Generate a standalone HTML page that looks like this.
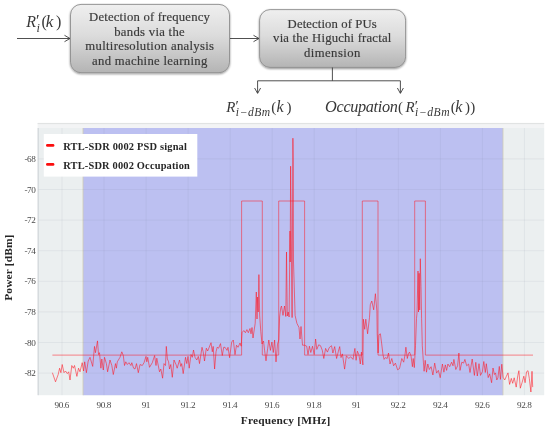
<!DOCTYPE html>
<html><head><meta charset="utf-8"><title>Figure</title>
<style>
html,body{margin:0;padding:0;background:#fff;}
body{width:550px;height:432px;overflow:hidden;position:relative;font-family:"Liberation Serif",serif;}
svg{position:absolute;left:0;top:0;display:block}
text{font-family:"Liberation Serif",serif;}
.bx{font-size:12.7px;fill:#3a3a3a;stroke:#3a3a3a;stroke-width:0.18px}
.ax{font-size:9.2px;fill:#4a4a4a}
.lg{font-size:10.4px;font-weight:bold;fill:#262626}
.tt{font-size:11.4px;font-weight:bold;fill:#262626}
.m{font-style:italic;fill:#383838}
.ms{font-style:italic;fill:#383838}
.mr{font-style:normal;fill:#383838}
</style></head><body>
<svg width="550" height="432" viewBox="0 0 550 432">
<defs>
<linearGradient id="g" x1="0" y1="0" x2="0" y2="1"><stop offset="0" stop-color="#efefef"/><stop offset="0.45" stop-color="#dcdcdc"/><stop offset="1" stop-color="#b4b4b4"/></linearGradient>
<filter id="sh" x="-5%" y="-10%" width="110%" height="130%"><feGaussianBlur in="SourceAlpha" stdDeviation="1.1"/><feOffset dx="0" dy="1.2"/><feComponentTransfer><feFuncA type="linear" slope="0.45"/></feComponentTransfer><feMerge><feMergeNode/><feMergeNode in="SourceGraphic"/></feMerge></filter>
</defs>
<rect width="550" height="432" fill="#fff"/>
<!-- flow diagram -->
<g filter="url(#sh)">
<rect x="70.5" y="4.4" width="159" height="68.3" rx="10.5" ry="10.5" fill="url(#g)" stroke="#8e8e8e" stroke-width="0.9"/>
<rect x="259.6" y="9.6" width="146" height="57.8" rx="10.5" ry="10.5" fill="url(#g)" stroke="#8e8e8e" stroke-width="0.9"/>
</g>
<g fill="none" stroke="#3c3c3c" stroke-width="0.9">
<path d="M17 38.5H70"/><path d="M64.5 35.3L70 38.5L64.5 41.7"/>
<path d="M230 38.5H259"/><path d="M253.5 35.3L259 38.5L253.5 41.7"/>
<path d="M332.4 67.5V80.8"/><path d="M257.6 93V80.8H400.4V93"/>
<path d="M254.6 88L257.6 93.4L260.6 88"/><path d="M397.4 88L400.4 93.4L403.4 88"/>
</g>
<g class="bx">
<text x="89.1" y="21.3" textLength="120.7" lengthAdjust="spacing">Detection of frequency</text>
<text x="114.2" y="35.7" textLength="70.5" lengthAdjust="spacing">bands via the</text>
<text x="85.3" y="50.1" textLength="128.7" lengthAdjust="spacing">multiresolution analysis</text>
<text x="92.1" y="64.5" textLength="115.2" lengthAdjust="spacing">and machine learning</text>
<text x="287.6" y="27.8" textLength="89.1" lengthAdjust="spacing">Detection of PUs</text>
<text x="273.1" y="42.3" textLength="118.2" lengthAdjust="spacing">via the Higuchi fractal</text>
<text x="303.9" y="56.8" textLength="56.5" lengthAdjust="spacing">dimension</text>
</g>
<!-- math labels -->
<text class="m" x="26.2" y="27.4" font-size="16.0">R</text>
<text class="mr" x="36.1" y="26.4" font-size="16.0">′</text>
<text class="ms" x="36.4" y="32.2" font-size="12.3">i</text>
<text class="mr" x="41.4" y="27.4" font-size="16.0">(</text>
<text class="m" x="45.8" y="27.4" font-size="17.0">k</text>
<text class="mr" x="55.9" y="27.4" font-size="16.0">)</text>
<text class="m" x="226.2" y="111.6" font-size="15.0">R</text>
<text class="mr" x="235.5" y="110.6" font-size="15.0">′</text>
<text class="ms" x="235.8" y="116.4" font-size="11.6" textLength="34.4" lengthAdjust="spacing">i−dBm</text>
<text class="mr" x="271.3" y="111.6" font-size="15.0">(</text>
<text class="m" x="276.5" y="111.6" font-size="16.0">k</text>
<text class="mr" x="286.4" y="111.6" font-size="15.0">)</text>
<text class="m" x="325.1" y="111.6" font-size="16.3" textLength="72.8" lengthAdjust="spacing">Occupation</text>
<text class="mr" x="398.0" y="111.6" font-size="15.0">(</text>
<text class="m" x="405.5" y="111.6" font-size="15.0">R</text>
<text class="mr" x="414.8" y="110.6" font-size="15.0">′</text>
<text class="ms" x="415.1" y="116.4" font-size="11.6" textLength="34.4" lengthAdjust="spacing">i−dBm</text>
<text class="mr" x="450.7" y="111.6" font-size="15.0">(</text>
<text class="m" x="455.2" y="111.6" font-size="16.0">k</text>
<text class="mr" x="465.0" y="111.6" font-size="15.0">)</text>
<text class="mr" x="470.2" y="111.6" font-size="15.0">)</text>
<!-- chart -->
<rect x="37.6" y="122.8" width="506.6" height="5.4" fill="#f3f4f5"/>
<rect x="37.6" y="123.1" width="506.6" height="1" fill="#dfe1e2"/>
<rect x="38.0" y="128.0" width="506.2" height="267.2" fill="#ebeff0"/>
<rect x="83" y="128.0" width="420" height="267.2" fill="#bcc0f1"/>
<rect x="82.6" y="128.0" width="0.8" height="267.2" fill="#cfcdb4"/>
<rect x="502.6" y="128.0" width="0.8" height="267.2" fill="#cfcdb4"/>
<g stroke="#6c768c" stroke-opacity="0.09" stroke-width="1" fill="none">
<line x1="62.0" y1="128.0" x2="62.0" y2="395.2"/>
<line x1="104.0" y1="128.0" x2="104.0" y2="395.2"/>
<line x1="146.1" y1="128.0" x2="146.1" y2="395.2"/>
<line x1="188.1" y1="128.0" x2="188.1" y2="395.2"/>
<line x1="230.2" y1="128.0" x2="230.2" y2="395.2"/>
<line x1="272.2" y1="128.0" x2="272.2" y2="395.2"/>
<line x1="314.2" y1="128.0" x2="314.2" y2="395.2"/>
<line x1="356.3" y1="128.0" x2="356.3" y2="395.2"/>
<line x1="398.3" y1="128.0" x2="398.3" y2="395.2"/>
<line x1="440.4" y1="128.0" x2="440.4" y2="395.2"/>
<line x1="482.4" y1="128.0" x2="482.4" y2="395.2"/>
<line x1="524.4" y1="128.0" x2="524.4" y2="395.2"/>
<line x1="38.0" y1="158.9" x2="544.2" y2="158.9"/>
<line x1="38.0" y1="189.5" x2="544.2" y2="189.5"/>
<line x1="38.0" y1="220.1" x2="544.2" y2="220.1"/>
<line x1="38.0" y1="250.7" x2="544.2" y2="250.7"/>
<line x1="38.0" y1="281.3" x2="544.2" y2="281.3"/>
<line x1="38.0" y1="311.9" x2="544.2" y2="311.9"/>
<line x1="38.0" y1="342.5" x2="544.2" y2="342.5"/>
<line x1="38.0" y1="373.1" x2="544.2" y2="373.1"/>
</g>
<rect x="37.6" y="128.0" width="1" height="267.2" fill="#c9ced2"/>
<polyline points="52.4,355.1 241.6,355.1 241.6,201.0 262.3,201.0 262.3,355.1 278.7,355.1 278.7,201.0 304.6,201.0 304.6,355.1 362.3,355.1 362.3,201.0 378.0,201.0 378.0,355.1 414.7,355.1 414.7,201.0 425.4,201.0 425.4,355.1 533.0,355.1" fill="none" stroke="#ff1420" stroke-opacity="0.54" stroke-width="0.95" stroke-linejoin="round"/>
<polyline points="52.4,372.7 55.5,381.8 58.2,374.5 59.6,368.2 60.9,372.7 62.2,364.5 64.0,372.7 65.5,371.0 67.3,373.6 68.7,371.8 70.0,380.0 71.8,365.5 73.3,368.2 74.5,365.5 76.9,376.4 78.5,368.2 80.0,371.8 82.2,362.7 83.6,371.0 84.7,361.8 86.4,372.7 88.2,361.0 90.0,357.3 92.7,366.4 94.5,346.4 95.5,352.7 97.5,340.9 98.5,354.5 99.5,352.7 100.9,368.2 101.8,359.0 103.3,370.0 104.5,357.3 106.4,363.6 107.6,371.8 110.0,360.0 111.8,365.5 113.3,374.5 115.5,363.6 116.4,368.2 117.3,361.8 120.0,357.3 121.8,351.8 123.3,355.5 124.5,365.5 125.8,361.8 127.3,364.5 129.0,362.7 130.9,365.5 131.8,362.7 133.6,368.2 135.0,369.0 136.5,363.6 138.3,372.7 140.0,364.5 142.3,365.5 144.0,362.7 146.0,356.4 146.8,361.8 147.7,357.3 149.5,367.3 152.3,362.7 154.6,355.5 156.0,365.5 156.8,358.2 159.5,371.8 160.8,369.0 162.6,378.2 164.0,363.6 165.5,365.5 166.3,346.4 167.4,359.0 168.6,361.8 169.5,369.0 170.8,364.5 172.3,377.3 174.0,360.0 176.0,364.5 177.2,368.2 179.5,360.0 180.8,366.4 181.7,363.6 183.2,373.6 185.5,357.3 186.8,363.6 188.0,356.4 189.2,368.2 191.0,354.5 192.3,357.3 193.5,350.0 195.0,357.3 196.8,360.0 198.3,356.4 199.5,363.6 202.0,347.3 203.2,351.8 204.5,361.0 206.3,348.2 207.7,351.0 209.2,347.3 211.0,342.7 212.3,351.8 213.2,346.4 214.6,369.0 216.0,351.8 217.2,347.3 218.6,348.2 220.5,343.6 222.3,355.5 223.7,347.3 225.0,347.3 227.0,350.4 228.0,347.3 229.6,357.7 231.7,342.0 233.3,340.0 235.0,354.6 236.5,345.2 238.0,347.3 240.0,343.0 241.2,346.2 242.0,332.7 243.8,330.6 245.4,332.7 246.9,329.6 248.3,332.7 250.0,328.5 251.0,333.8 252.0,327.5 253.0,338.0 255.2,323.3 256.3,292.0 257.0,319.0 257.6,297.0 258.2,312.0 258.9,274.6 259.7,316.0 260.8,331.7 262.0,344.0 263.5,341.0 264.6,350.4 266.0,360.8 267.7,348.3 268.8,340.0 270.4,350.4 271.9,342.0 273.3,352.5 274.6,340.0 276.0,361.9 277.5,344.2 278.8,340.0 279.6,317.0 280.8,307.7 281.5,306.0 283.0,315.4 284.5,306.0 285.8,316.5 286.5,252.0 287.3,316.0 288.2,312.0 289.1,317.0 290.0,231.0 290.2,262.0 290.6,166.2 291.0,200.0 292.1,317.6 292.9,138.2 293.2,160.0 293.5,262.0 295.1,315.4 296.9,323.3 299.0,327.5 300.0,339.0 301.0,326.5 302.5,345.2 304.6,345.2 306.7,346.2 308.0,354.6 309.4,346.2 310.8,352.5 312.5,346.2 314.2,354.6 315.6,339.0 316.8,349.4 318.7,344.8 320.5,345.7 322.3,350.3 323.8,358.5 325.6,348.4 327.4,352.1 329.3,347.5 331.5,345.7 332.9,353.0 334.7,346.6 336.6,358.5 338.4,351.2 339.7,346.6 341.0,357.6 342.4,353.9 344.6,369.1 346.4,355.8 348.8,358.5 350.6,356.7 353.0,359.4 354.9,348.4 356.1,360.3 357.4,351.2 358.9,354.8 360.3,364.0 361.4,352.1 362.9,364.9 363.4,319.2 364.7,329.3 365.8,319.2 367.6,333.8 369.5,317.4 370.3,304.7 371.8,301.0 373.7,309.8 375.4,293.7 376.9,311.2 377.2,333.8 378.1,353.0 379.0,334.7 380.4,333.8 381.7,343.9 383.0,354.8 384.1,359.4 385.4,357.6 387.2,358.5 388.5,353.0 390.0,364.0 391.8,358.5 393.6,365.8 395.4,363.1 397.6,369.8 399.5,368.6 401.8,358.5 403.7,362.2 405.0,354.8 405.9,347.2 407.3,358.5 408.4,353.9 409.5,352.1 411.0,355.8 412.4,366.7 413.2,358.5 414.3,367.6 415.5,345.7 416.5,318.3 417.0,313.0 418.0,271.0 418.5,312.0 419.1,273.3 419.7,310.0 420.3,258.7 421.0,286.4 421.6,318.3 422.3,345.7 423.4,362.2 424.1,371.3 425.2,360.3 426.5,372.2 427.8,364.0 429.3,369.5 431.1,366.7 432.9,375.0 434.7,363.1 436.6,373.1 438.4,370.4 440.2,377.7 442.4,364.0 443.9,372.2 445.3,364.9 446.6,370.4 447.9,364.0 449.7,366.7 451.6,362.2 453.0,365.8 453.9,359.4 455.8,369.5 457.6,365.8 458.9,353.0 460.0,370.4 461.8,362.2 463.6,363.1 464.9,359.4 466.7,365.8 468.6,364.0 470.0,372.5 472.2,359.0 474.4,375.4 475.8,362.3 477.3,376.0 479.0,363.7 480.5,375.4 482.4,371.7 483.8,361.5 485.3,372.5 486.3,363.7 488.2,377.6 489.7,373.9 491.6,382.7 493.0,368.0 494.4,374.5 495.5,372.9 496.8,380.0 497.9,377.8 499.3,366.4 500.4,379.4 501.8,364.2 503.1,377.3 504.7,380.0 506.4,376.2 508.0,372.9 509.6,384.4 511.3,378.4 512.7,383.3 514.2,377.8 516.2,387.1 517.8,375.6 518.9,370.7 520.3,388.2 522.2,382.2 523.8,376.2 525.1,382.7 526.5,371.8 528.0,370.7 529.3,378.4 530.9,392.0 532.0,371.3 532.7,387.1" fill="none" stroke="#ff1420" stroke-opacity="0.66" stroke-width="0.85" stroke-linejoin="round"/>
<rect x="43.8" y="134" width="153.5" height="42.6" fill="#fff"/>
<g stroke="#fb0d0d" stroke-width="2.8" stroke-linecap="round"><path d="M47.4 145.4H53"/><path d="M47.4 164.4H53"/></g>
<text class="lg" x="63.3" y="150.4" textLength="123.6" lengthAdjust="spacing">RTL-SDR 0002 PSD signal</text>
<text class="lg" x="63.3" y="168.8" textLength="126.5" lengthAdjust="spacing">RTL-SDR 0002 Occupation</text>
<g class="ax">
<text x="24.4" y="162.0" textLength="11.5" lengthAdjust="spacing">-68</text>
<text x="24.4" y="192.6" textLength="11.5" lengthAdjust="spacing">-70</text>
<text x="24.4" y="223.2" textLength="11.5" lengthAdjust="spacing">-72</text>
<text x="24.4" y="253.8" textLength="11.5" lengthAdjust="spacing">-74</text>
<text x="24.4" y="284.4" textLength="11.5" lengthAdjust="spacing">-76</text>
<text x="24.4" y="315.0" textLength="11.5" lengthAdjust="spacing">-78</text>
<text x="24.4" y="345.6" textLength="11.5" lengthAdjust="spacing">-80</text>
<text x="24.4" y="376.2" textLength="11.5" lengthAdjust="spacing">-82</text>
<text x="62.0" y="408.3" text-anchor="middle" textLength="14.9" lengthAdjust="spacing">90.6</text>
<text x="104.0" y="408.3" text-anchor="middle" textLength="14.9" lengthAdjust="spacing">90.8</text>
<text x="146.1" y="408.3" text-anchor="middle" textLength="8.6" lengthAdjust="spacing">91</text>
<text x="188.1" y="408.3" text-anchor="middle" textLength="14.9" lengthAdjust="spacing">91.2</text>
<text x="230.2" y="408.3" text-anchor="middle" textLength="14.9" lengthAdjust="spacing">91.4</text>
<text x="272.2" y="408.3" text-anchor="middle" textLength="14.9" lengthAdjust="spacing">91.6</text>
<text x="314.2" y="408.3" text-anchor="middle" textLength="14.9" lengthAdjust="spacing">91.8</text>
<text x="356.3" y="408.3" text-anchor="middle" textLength="8.6" lengthAdjust="spacing">91</text>
<text x="398.3" y="408.3" text-anchor="middle" textLength="14.9" lengthAdjust="spacing">92.2</text>
<text x="440.4" y="408.3" text-anchor="middle" textLength="14.9" lengthAdjust="spacing">92.4</text>
<text x="482.4" y="408.3" text-anchor="middle" textLength="14.9" lengthAdjust="spacing">92.6</text>
<text x="524.4" y="408.3" text-anchor="middle" textLength="14.9" lengthAdjust="spacing">92.8</text>
</g>
<text class="tt" x="240.8" y="424.2" textLength="89.5" lengthAdjust="spacing">Frequency [MHz]</text>
<text class="tt" transform="translate(12.2,300.8) rotate(-90)" textLength="66.2" lengthAdjust="spacing">Power [dBm]</text>
</svg>
</body></html>
